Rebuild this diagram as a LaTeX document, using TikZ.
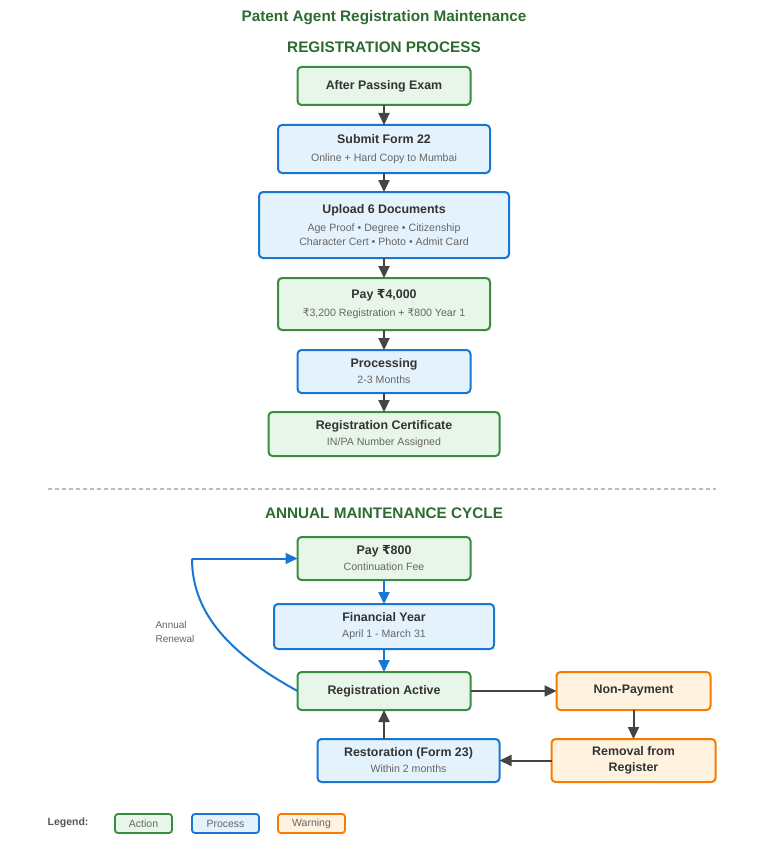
\documentclass[tikz,border=0pt]{standalone}
\usepackage{fontspec}
\setmainfont{Liberation Sans}
\newfontfamily\rupfont{DejaVu Sans}
\usetikzlibrary{arrows.meta, positioning}
\definecolor{greenTitle}{HTML}{2E6B30}
\definecolor{greenBorder}{HTML}{388E3C}
\definecolor{greenFill}{HTML}{E8F5E9}
\definecolor{blueBorder}{HTML}{1976D2}
\definecolor{blueFill}{HTML}{E3F2FD}
\definecolor{orangeBorder}{HTML}{F57C00}
\definecolor{orangeFill}{HTML}{FFF3E0}
\definecolor{darkText}{HTML}{333333}
\definecolor{greyText}{HTML}{666666}
\definecolor{arrowGrey}{HTML}{444444}
\definecolor{dashGrey}{HTML}{BBBBBB}
\newcommand{\rup}{{\rupfont ₹}}
\newcommand{\boxTitle}[1]{{\fontsize{12.4}{17}\selectfont\bfseries #1}}
\newcommand{\boxSub}[1]{{\fontsize{10.6}{14}\selectfont\color{greyText}#1}}
\tikzset{
  boxBase/.style={
    draw, line width=2pt, rounded corners=4pt,
    inner sep=0pt, outer sep=0pt, align=center, text=darkText,
    font=\fontsize{12}{17.5}\selectfont
  },
  boxAction/.style={boxBase, draw=greenBorder, fill=greenFill},
  boxProcess/.style={boxBase, draw=blueBorder, fill=blueFill},
  boxWarning/.style={boxBase, draw=orangeBorder, fill=orangeFill},
  legendBox/.style={rounded corners=3pt, line width=1.8pt, minimum width=57pt,
    minimum height=19pt, inner sep=0pt, text=greyText, font=\fontsize{10.5}{12}\selectfont},
  arrow/.style={-{Triangle[length=12pt, width=11pt]}, line width=2pt, arrowGrey},
  arrowBlue/.style={arrow, blueBorder},
  sectionTitle/.style={font=\fontsize{15.3}{17}\selectfont\bfseries, text=greenTitle},
}

\begin{document}
\begin{tikzpicture}[x=1pt, y=-1pt, node distance=20pt]
  \useasboundingbox[fill=white] (0,0) rectangle (768,864);

  \node[sectionTitle] (mainTitle) at (384,18) {Patent Agent Registration Maintenance};
  \node[sectionTitle] (regTitle) at (384,47) {REGISTRATION PROCESS};

  % registration chain
  \node[boxAction, minimum width=173pt, minimum height=38pt] (exam) at (384,86)
    {\boxTitle{After Passing Exam}};
  \node[boxProcess, minimum width=212pt, minimum height=48pt, below=of exam] (form22)
    {\boxTitle{Submit Form 22}\\\boxSub{Online + Hard Copy to Mumbai}};
  \node[boxProcess, minimum width=250pt, minimum height=66pt, below=19pt of form22] (docs)
    {\boxTitle{Upload 6 Documents}\\\boxSub{Age Proof • Degree • Citizenship}\\[-3.5pt]
     \boxSub{Character Cert • Photo • Admit Card}};
  \node[boxAction, minimum width=212pt, minimum height=52pt, below=of docs] (payReg)
    {\boxTitle{Pay \rup4,000}\\\boxSub{\rup3,200 Registration + \rup800 Year 1}};
  \node[boxProcess, minimum width=173pt, minimum height=43pt, below=of payReg] (proc)
    {\boxTitle{Processing}\\[-1.5pt]\boxSub{2-3 Months}};
  \node[boxAction, minimum width=231pt, minimum height=44pt, below=19pt of proc] (cert)
    {\boxTitle{Registration Certificate}\\[-1.5pt]\boxSub{IN/PA Number Assigned}};

  \draw[arrow] (exam) -- (form22);
  \draw[arrow] (form22) -- (docs);
  \draw[arrow] (docs) -- (payReg);
  \draw[arrow] (payReg) -- (proc);
  \draw[arrow] (proc) -- (cert);

  \draw[dashGrey, line width=1.4pt, dash pattern=on 4pt off 3pt] (48,489) -- (716,489);

  \node[sectionTitle] (cycleTitle) at (384,513) {ANNUAL MAINTENANCE CYCLE};

  % maintenance cycle
  \node[boxAction, minimum width=173pt, minimum height=43pt] (payAnnual) at (384,558.5)
    {\boxTitle{Pay \rup800}\\[-1.5pt]\boxSub{Continuation Fee}};
  \node[boxProcess, minimum width=220pt, minimum height=45pt, below=24pt of payAnnual] (finYear)
    {\boxTitle{Financial Year}\\[-1.5pt]\boxSub{April 1 - March 31}};
  \node[boxAction, minimum width=173pt, minimum height=38pt, below=23pt of finYear] (active)
    {\boxTitle{Registration Active}};
  \node[boxWarning, minimum width=154pt, minimum height=38pt, right=86pt of active] (nonPay)
    {\boxTitle{Non-Payment}};
  \node[boxWarning, minimum width=164pt, minimum height=43pt, below=29pt of nonPay] (removal)
    {\boxTitle{Removal from}\\[-1.5pt]\boxTitle{Register}};
  \node[boxProcess, minimum width=182pt, minimum height=43pt, left=52pt of removal] (restore)
    {\boxTitle{Restoration (Form 23)}\\[-1.5pt]\boxSub{Within 2 months}};

  \draw[arrowBlue] (payAnnual) -- (finYear);
  \draw[arrowBlue] (finYear) -- (active);
  \draw[arrow] (active) -- (nonPay);
  \draw[arrow] (nonPay) -- (removal);
  \draw[arrow] (removal) -- (restore);
  \draw[arrow] (restore.north -| active.south) -- (active.south);

  \coordinate (renewCorner) at (192,558.5);
  \draw[arrowBlue, -] (active.west) .. controls (232,655) and (192,615) .. (renewCorner);
  \draw[arrowBlue] (renewCorner) -- (payAnnual.west);
  \node[anchor=west, align=left, text=greyText, font=\fontsize{10}{14}\selectfont]
    (renewLabel) at (152,632) {Annual\\Renewal};

  % legend
  \node[text=greyText!85!black, font=\fontsize{10.5}{12}\selectfont\bfseries] (legendLabel) at (68,823) {Legend:};
  \node[legendBox, draw=greenBorder, fill=greenFill] (legAction) at (143.5,823.5) {Action};
  \node[legendBox, draw=blueBorder, fill=blueFill, minimum width=67pt] (legProcess) at (225.5,823.5) {Process};
  \node[legendBox, draw=orangeBorder, fill=orangeFill, minimum width=67pt] (legWarning) at (311.5,823.5) {Warning};
\end{tikzpicture}
\end{document}
